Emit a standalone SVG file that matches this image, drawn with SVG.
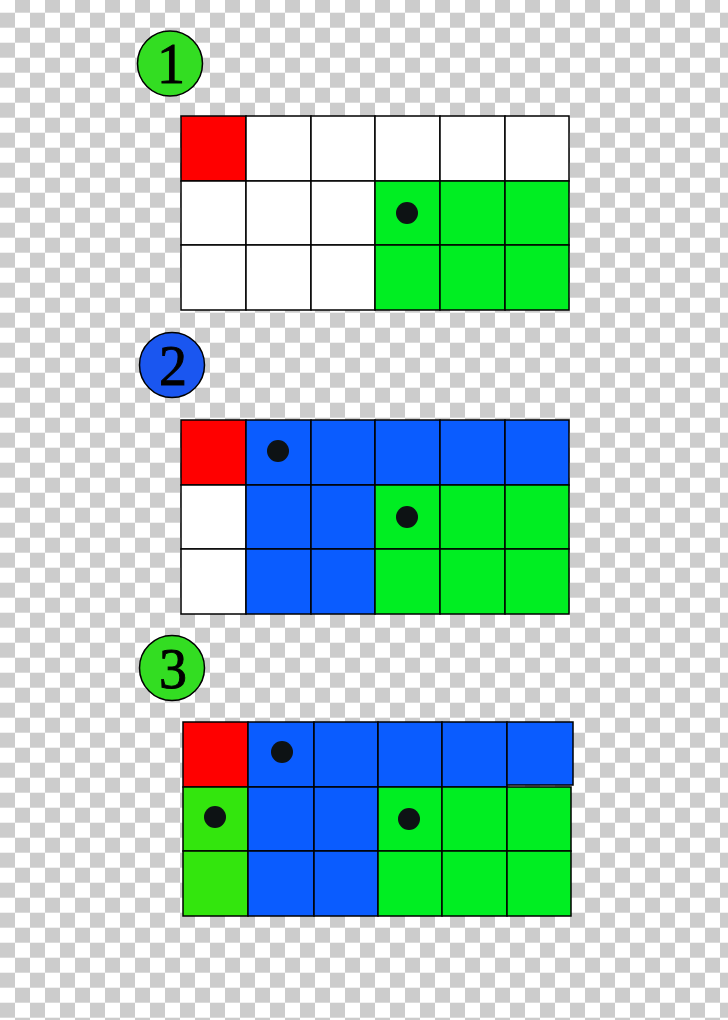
<svg xmlns="http://www.w3.org/2000/svg" width="728" height="1020" viewBox="0 0 728 1020">
<style>
.c{stroke:#000;stroke-width:1.5}
.w{fill:#fff}.r{fill:#ff0000}.g{fill:#00ee22}.g2{fill:#33e60d}.b{fill:#0a5cff}
.dot{fill:#0d1214}
.badge{stroke:#000;stroke-width:1.5}
.num{font-family:"Liberation Serif","DejaVu Serif",serif;font-size:56px;fill:#000;stroke:#000;stroke-width:0.9;text-anchor:middle}
</style>
<defs>
<pattern id="chk" patternUnits="userSpaceOnUse" x="0" y="-2.3" width="30" height="30">
<rect width="30" height="30" fill="#fff"/>
<rect x="15" y="0" width="15" height="15" fill="#cccccc"/>
<rect x="0" y="15" width="15" height="15" fill="#cccccc"/>
</pattern>
</defs>
<rect width="728" height="1020" fill="url(#chk)"/>

<g id="badge1"><circle class="badge" cx="170" cy="63.5" r="32.5" fill="#33dd22"/><text class="num" x="171" y="83">1</text></g>
<g id="grid1">
<rect class="c r" x="181" y="116" width="65" height="65"/>
<rect class="c w" x="246" y="116" width="65" height="65"/>
<rect class="c w" x="311" y="116" width="64" height="65"/>
<rect class="c w" x="375" y="116" width="65" height="65"/>
<rect class="c w" x="440" y="116" width="65" height="65"/>
<rect class="c w" x="505" y="116" width="64" height="65"/>
<rect class="c w" x="181" y="181" width="65" height="64"/>
<rect class="c w" x="246" y="181" width="65" height="64"/>
<rect class="c w" x="311" y="181" width="64" height="64"/>
<rect class="c g" x="375" y="181" width="65" height="64"/>
<rect class="c g" x="440" y="181" width="65" height="64"/>
<rect class="c g" x="505" y="181" width="64" height="64"/>
<rect class="c w" x="181" y="245" width="65" height="65"/>
<rect class="c w" x="246" y="245" width="65" height="65"/>
<rect class="c w" x="311" y="245" width="64" height="65"/>
<rect class="c g" x="375" y="245" width="65" height="65"/>
<rect class="c g" x="440" y="245" width="65" height="65"/>
<rect class="c g" x="505" y="245" width="64" height="65"/>
<circle class="dot" cx="407" cy="213" r="11"/>
</g>

<g id="badge2"><circle class="badge" cx="172" cy="365" r="32.5" fill="#1a56f0"/><text class="num" x="173" y="385">2</text></g>
<g id="grid2">
<rect class="c r" x="181" y="420" width="65" height="65"/>
<rect class="c b" x="246" y="420" width="65" height="65"/>
<rect class="c b" x="311" y="420" width="64" height="65"/>
<rect class="c b" x="375" y="420" width="65" height="65"/>
<rect class="c b" x="440" y="420" width="65" height="65"/>
<rect class="c b" x="505" y="420" width="64" height="65"/>
<rect class="c w" x="181" y="485" width="65" height="64"/>
<rect class="c b" x="246" y="485" width="65" height="64"/>
<rect class="c b" x="311" y="485" width="64" height="64"/>
<rect class="c g" x="375" y="485" width="65" height="64"/>
<rect class="c g" x="440" y="485" width="65" height="64"/>
<rect class="c g" x="505" y="485" width="64" height="64"/>
<rect class="c w" x="181" y="549" width="65" height="65"/>
<rect class="c b" x="246" y="549" width="65" height="65"/>
<rect class="c b" x="311" y="549" width="64" height="65"/>
<rect class="c g" x="375" y="549" width="65" height="65"/>
<rect class="c g" x="440" y="549" width="65" height="65"/>
<rect class="c g" x="505" y="549" width="64" height="65"/>
<circle class="dot" cx="278" cy="451" r="11"/>
<circle class="dot" cx="407" cy="517" r="11"/>
</g>

<g id="badge3"><circle class="badge" cx="172" cy="668" r="32.5" fill="#33dd22"/><text class="num" x="173" y="688">3</text></g>
<g id="grid3">
<rect class="c r" x="183" y="722" width="65" height="65"/>
<rect class="c b" x="248" y="722" width="66" height="65"/>
<rect class="c b" x="314" y="722" width="64" height="65"/>
<rect class="c b" x="378" y="722" width="64" height="65"/>
<rect class="c b" x="442" y="722" width="65" height="65"/>
<rect class="c b" x="507" y="722" width="66" height="63"/>
<rect class="c g2" x="183" y="787" width="65" height="64"/>
<rect class="c b" x="248" y="787" width="66" height="64"/>
<rect class="c b" x="314" y="787" width="64" height="64"/>
<rect class="c g" x="378" y="787" width="64" height="64"/>
<rect class="c g" x="442" y="787" width="65" height="64"/>
<rect class="c g" x="507" y="787" width="64" height="64"/>
<rect class="c g2" x="183" y="851" width="65" height="65"/>
<rect class="c b" x="248" y="851" width="66" height="65"/>
<rect class="c b" x="314" y="851" width="64" height="65"/>
<rect class="c g" x="378" y="851" width="64" height="65"/>
<rect class="c g" x="442" y="851" width="65" height="65"/>
<rect class="c g" x="507" y="851" width="64" height="65"/>
<circle class="dot" cx="282" cy="752" r="11"/>
<circle class="dot" cx="215" cy="817" r="11"/>
<circle class="dot" cx="409" cy="819" r="11"/>
</g>
</svg>
